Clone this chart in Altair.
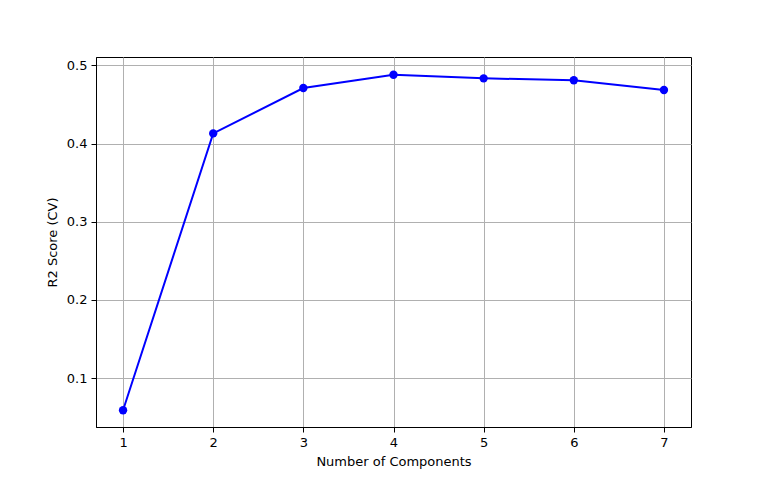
import altair as alt
import pandas as pd

components = [1, 2, 3, 4, 5, 6, 7]
r2_scores = [0.059, 0.413, 0.471, 0.488, 0.4834, 0.481, 0.4685]

df = pd.DataFrame({"n": components, "r2": r2_scores})

FONT = "DejaVu Sans"

x = alt.X(
    "n:Q",
    title="Number of Components",
    scale=alt.Scale(domain=[0.7, 7.3], nice=False, zero=False),
    axis=alt.Axis(values=components, format="d", grid=True, gridColor="#b0b0b0",
                  gridWidth=1, domainColor="black", domainWidth=1, tickColor="black",
                  tickSize=5, labelPadding=4, labelFontSize=13, titleFontSize=13,
                  labelFont=FONT, titleFont=FONT, labelColor="black", titleColor="black",
                  titleFontWeight="normal", titlePadding=6),
)
y = alt.Y(
    "r2:Q",
    title="R2 Score (CV)",
    scale=alt.Scale(domain=[0.0376, 0.5107], nice=False, zero=False),
    axis=alt.Axis(values=[0.1, 0.2, 0.3, 0.4, 0.5], format=".1f", grid=True,
                  gridColor="#b0b0b0", gridWidth=1, domainColor="black", domainWidth=1,
                  tickColor="black", tickSize=5, labelPadding=4, labelFontSize=13,
                  titleFontSize=13, labelFont=FONT, titleFont=FONT, labelColor="black",
                  titleColor="black", titleFontWeight="normal", titlePadding=7),
)

line = alt.Chart(df).mark_line(color="#0000ff", strokeWidth=2).encode(x=x, y=y)
pts = alt.Chart(df).mark_point(color="#0000ff", filled=True, opacity=1, size=70).encode(x=x, y=y)

chart = (
    alt.layer(line, pts)
    .properties(
        width=595,
        height=370,
        autosize=alt.AutoSizeParams(type="none"),
        padding={"left": 88, "top": 49, "right": 69, "bottom": 45},
        background="white",
    )
    .configure_view(stroke="black", strokeWidth=1)
)

chart.save("out.html", embed_options={"renderer": "svg", "actions": False})
